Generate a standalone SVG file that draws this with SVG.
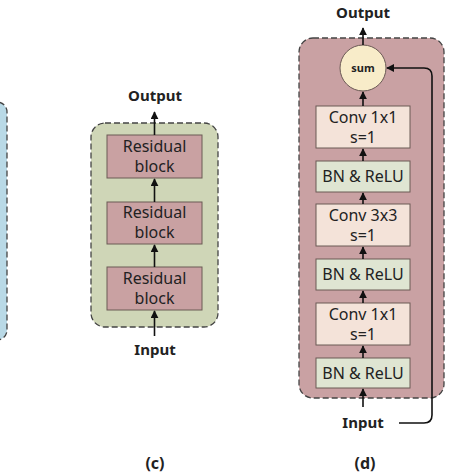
<svg xmlns="http://www.w3.org/2000/svg" width="474" height="474" viewBox="0 0 474 474">
<style>
text{font-family:"Noto Sans","Open Sans","DejaVu Sans",sans-serif;fill:#222;text-anchor:middle}
.t{font-size:16px}
.b{font-size:15px;font-weight:bold}
.lab{font-size:16px;font-weight:bold}
.frame{stroke:#444;stroke-width:1.3;stroke-dasharray:6 3}
.box{stroke:#6b5a55;stroke-width:1}
.res{fill:#c9a1a2}
.conv{fill:#f4e3d9}
.bn{fill:#dfe5d2}
.ln{stroke:#111;stroke-width:1.6;fill:none}
</style>
<defs>
<marker id="ah" viewBox="0 0 10 10" refX="9" refY="5" markerWidth="5" markerHeight="5" orient="auto"><path d="M0,0 L10,5 L0,10 z" fill="#111"/></marker>
</defs>
<rect width="474" height="474" fill="#fff"/>
<g id="panel-b-edge">
<rect x="-20" y="102" width="27" height="238" rx="10" fill="#b9d9e6" class="frame"/>
</g>
<g id="panel-c">
<rect x="91" y="123" width="127" height="204" rx="14" fill="#cfd6b7" class="frame"/>
<text class="b" x="155" y="101">Output</text>
<text class="b" x="155" y="355">Input</text>
<text class="lab" x="155" y="469">(c)</text>
</g>
<g id="c-block1"><rect class="box res" x="107" y="135" width="95" height="43"/><text class="t" x="154.5" y="151.5">Residual</text><text class="t" x="154.5" y="171.5">block</text></g>
<g id="c-block2"><rect class="box res" x="107" y="202" width="95" height="42"/><text class="t" x="154.5" y="218">Residual</text><text class="t" x="154.5" y="238">block</text></g>
<g id="c-block3"><rect class="box res" x="107" y="267" width="95" height="43"/><text class="t" x="154.5" y="283.5">Residual</text><text class="t" x="154.5" y="303.5">block</text></g>
<g id="panel-d">
<rect x="299" y="38" width="145" height="360" rx="14" fill="#c9a1a3" class="frame"/>
<text class="b" x="363" y="18">Output</text>
<text class="b" x="363" y="428">Input</text>
<text class="lab" x="365" y="469">(d)</text>
</g>
<g id="d-sum"><circle cx="363" cy="68" r="23" fill="#f8ecc9" stroke="#6b5a55" stroke-width="1"/><text x="363" y="72" style="font-size:11px;font-weight:bold">sum</text></g>
<g id="d-conv1"><rect class="box conv" x="316" y="106" width="94" height="42"/><text class="t" x="363" y="123">Conv 1x1</text><text class="t" x="363" y="143">s=1</text></g>
<g id="d-bn1"><rect class="box bn" x="316" y="161" width="94" height="31"/><text class="t" x="363" y="182">BN &amp; ReLU</text></g>
<g id="d-conv2"><rect class="box conv" x="316" y="204" width="94" height="42"/><text class="t" x="363" y="221">Conv 3x3</text><text class="t" x="363" y="241">s=1</text></g>
<g id="d-bn2"><rect class="box bn" x="316" y="259" width="94" height="31"/><text class="t" x="363" y="280">BN &amp; ReLU</text></g>
<g id="d-conv3"><rect class="box conv" x="316" y="303" width="94" height="42"/><text class="t" x="363" y="320">Conv 1x1</text><text class="t" x="363" y="340">s=1</text></g>
<g id="d-bn3"><rect class="box bn" x="316" y="358" width="94" height="30"/><text class="t" x="363" y="378.5">BN &amp; ReLU</text></g>
<g id="connectors">
<line class="ln" x1="154.5" y1="135" x2="154.5" y2="112" marker-end="url(#ah)"/>
<line class="ln" x1="154.5" y1="202" x2="154.5" y2="179" marker-end="url(#ah)"/>
<line class="ln" x1="154.5" y1="267" x2="154.5" y2="245" marker-end="url(#ah)"/>
<line class="ln" x1="154.5" y1="336" x2="154.5" y2="311" marker-end="url(#ah)"/>
<line class="ln" x1="363" y1="45" x2="363" y2="28" marker-end="url(#ah)"/>
<line class="ln" x1="363" y1="106" x2="363" y2="92" marker-end="url(#ah)"/>
<line class="ln" x1="363" y1="161" x2="363" y2="149" marker-end="url(#ah)"/>
<line class="ln" x1="363" y1="259" x2="363" y2="247" marker-end="url(#ah)"/>
<line class="ln" x1="363" y1="204" x2="363" y2="193" marker-end="url(#ah)"/>
<line class="ln" x1="363" y1="303" x2="363" y2="291" marker-end="url(#ah)"/>
<line class="ln" x1="363" y1="358" x2="363" y2="346" marker-end="url(#ah)"/>
<line class="ln" x1="363" y1="407" x2="363" y2="389" marker-end="url(#ah)"/>
<path class="ln" d="M399,423 H424 Q432,423 432,415 V76 Q432,68 424,68 H387" marker-end="url(#ah)"/>
</g>
</svg>
